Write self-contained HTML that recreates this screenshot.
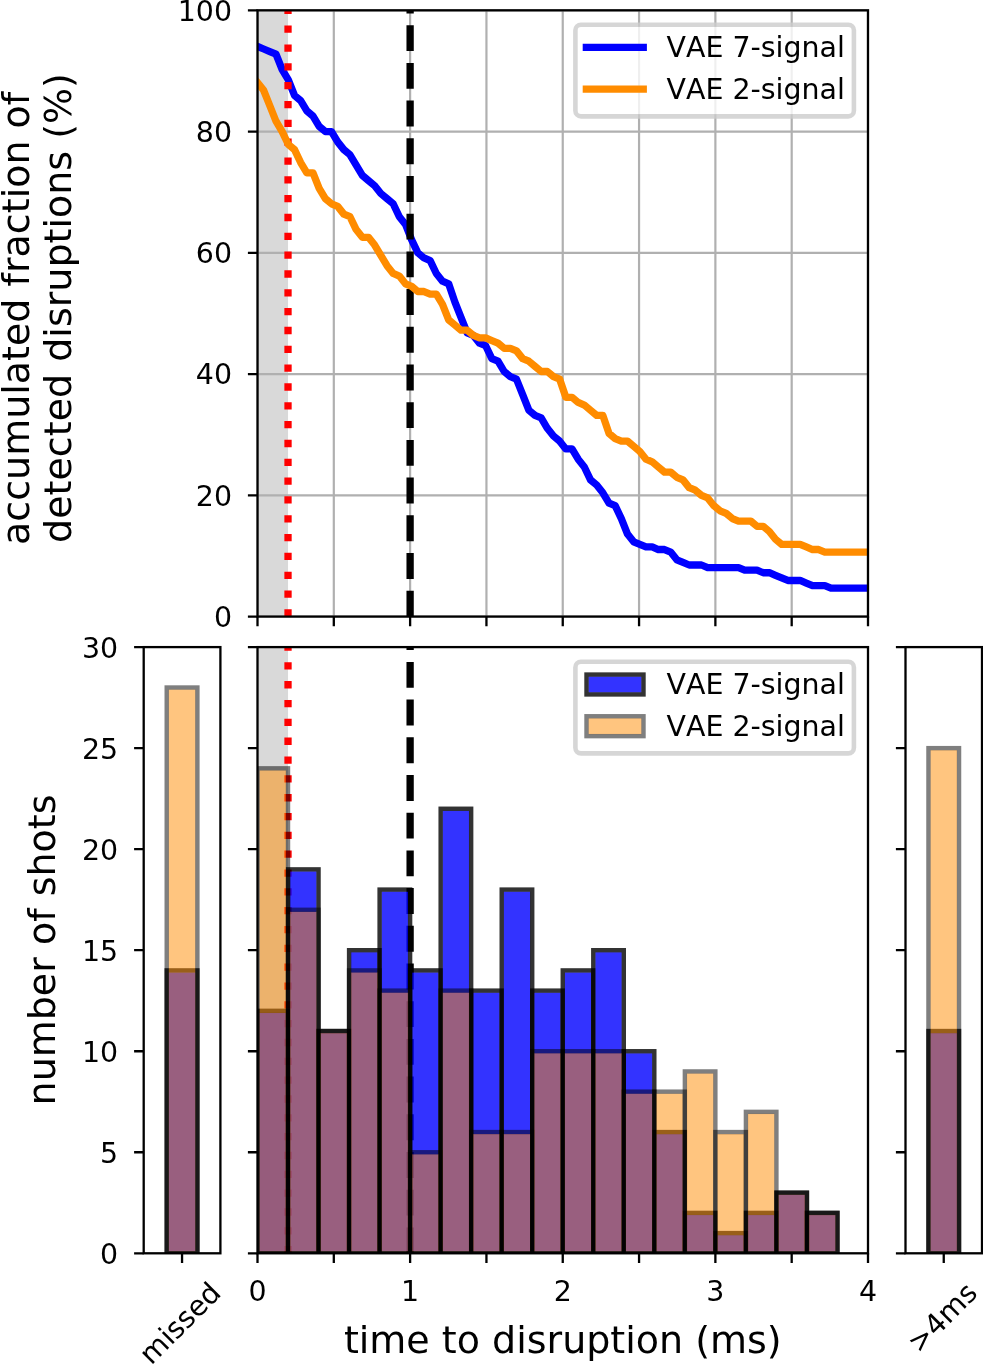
<!DOCTYPE html>
<html lang="en"><head><meta charset="utf-8"><title>Disruption detection statistics</title>
<style>html,body{margin:0;padding:0;background:#fff}body{width:983px;height:1364px;overflow:hidden}svg{display:block}text{font-family:"DejaVu Sans","Liberation Sans",sans-serif;fill:#000;font-kerning:none}</style>
</head><body>
<svg width="983" height="1364" viewBox="0 0 983 1364">
<rect x="0" y="0" width="983" height="1364" fill="#fff"/>
<defs>
<clipPath id="ct"><rect x="257.5" y="10.3" width="610.5" height="606.3000000000001"/></clipPath>
<clipPath id="cb"><rect x="257.5" y="647.1" width="610.5" height="606.1999999999999"/></clipPath>
<clipPath id="cl"><rect x="143.7" y="647.1" width="76.70000000000002" height="606.1999999999999"/></clipPath>
<clipPath id="cr"><rect x="905.5" y="647.1" width="76.5" height="606.1999999999999"/></clipPath>
</defs>
<g id="top-axes">
<g clip-path="url(#ct)">
<rect x="257.5" y="10.3" width="30.52" height="606.3000000000001" fill="#808080" fill-opacity="0.3"/>
<path d="M257.50 10.3V616.6M333.81 10.3V616.6M410.12 10.3V616.6M486.44 10.3V616.6M562.75 10.3V616.6M639.06 10.3V616.6M715.38 10.3V616.6M791.69 10.3V616.6M868.00 10.3V616.6M257.5 616.60H868.0M257.5 495.34H868.0M257.5 374.08H868.0M257.5 252.82H868.0M257.5 131.56H868.0M257.5 10.30H868.0" stroke="#b0b0b0" stroke-width="2.2" fill="none"/>
<polyline points="257.50,46.42 263.67,49.00 269.83,51.58 276.00,54.16 282.17,69.64 288.33,79.96 294.50,95.44 300.67,100.60 306.83,110.92 313.00,116.08 319.17,126.40 325.33,131.56 331.50,131.56 337.67,141.88 343.83,149.62 350.00,154.78 356.17,165.10 362.33,175.42 368.50,180.58 374.67,185.74 380.83,193.48 387.00,198.64 393.17,203.80 399.33,216.70 405.50,224.44 411.67,239.92 417.83,252.82 424.00,257.98 430.17,260.56 436.33,273.46 442.50,281.20 448.67,283.78 454.83,301.84 461.00,317.32 467.17,332.80 473.33,335.38 479.50,343.12 485.67,345.70 491.83,358.60 498.00,361.18 504.17,371.50 510.33,376.66 516.50,379.24 522.67,394.72 528.83,410.20 535.00,415.36 541.17,417.94 547.33,428.26 553.50,436.00 559.67,441.16 565.83,448.90 572.00,448.90 578.17,459.22 584.33,466.96 590.50,479.86 596.67,485.02 602.83,492.76 609.00,503.08 615.17,505.66 621.33,518.56 627.50,534.04 633.67,541.78 639.83,544.36 646.00,546.94 652.17,546.94 658.33,549.52 664.50,549.52 670.67,552.10 676.83,559.84 683.00,562.42 689.17,565.00 695.33,565.00 701.50,565.00 707.67,567.58 713.83,567.58 720.00,567.58 726.17,567.58 732.33,567.58 738.50,567.58 744.67,570.16 750.83,570.16 757.00,570.16 763.17,572.74 769.33,572.74 775.50,575.32 781.67,577.90 787.83,580.48 794.00,580.48 800.17,580.48 806.33,583.06 812.50,585.64 818.67,585.64 824.83,585.64 831.00,588.22 837.17,588.22 843.33,588.22 849.50,588.22 855.67,588.22 861.83,588.22 868.00,588.22" fill="none" stroke="#0000ff" stroke-width="7.3" stroke-linejoin="round" stroke-linecap="square"/>
<path d="M288.02 616.6V10.3" stroke="#ff0000" stroke-width="7.3" stroke-dasharray="7.3 11.53" fill="none"/>
<path d="M410.12 616.6V10.3" stroke="#000" stroke-width="7.3" stroke-dasharray="25.9 11.8" fill="none"/>
<polyline points="257.50,82.54 263.67,90.28 269.83,105.76 276.00,121.24 282.17,131.56 288.33,144.46 294.50,149.62 300.67,162.52 306.83,172.84 313.00,172.84 319.17,188.32 325.33,198.64 331.50,203.80 337.67,206.38 343.83,214.12 350.00,216.70 356.17,229.60 362.33,237.34 368.50,237.34 374.67,245.08 380.83,255.40 387.00,265.72 393.17,273.46 399.33,276.04 405.50,283.78 411.67,286.36 417.83,291.52 424.00,291.52 430.17,294.10 436.33,294.10 442.50,304.42 448.67,319.90 454.83,325.06 461.00,330.22 467.17,330.22 473.33,335.38 479.50,337.96 485.67,337.96 491.83,340.54 498.00,343.12 504.17,348.28 510.33,348.28 516.50,350.86 522.67,358.60 528.83,361.18 535.00,366.34 541.17,371.50 547.33,371.50 553.50,376.66 559.67,379.24 565.83,397.30 572.00,397.30 578.17,402.46 584.33,405.04 590.50,410.20 596.67,415.36 602.83,415.36 609.00,433.42 615.17,438.58 621.33,441.16 627.50,441.16 633.67,446.32 639.83,451.48 646.00,459.22 652.17,461.80 658.33,466.96 664.50,472.12 670.67,472.12 676.83,477.28 683.00,479.86 689.17,487.60 695.33,490.18 701.50,495.34 707.67,497.92 713.83,505.66 720.00,510.82 726.17,513.40 732.33,518.56 738.50,521.14 744.67,521.14 750.83,521.14 757.00,526.30 763.17,526.30 769.33,531.46 775.50,539.20 781.67,544.36 787.83,544.36 794.00,544.36 800.17,544.36 806.33,546.94 812.50,549.52 818.67,549.52 824.83,552.10 831.00,552.10 837.17,552.10 843.33,552.10 849.50,552.10 855.67,552.10 861.83,552.10 868.00,552.10" fill="none" stroke="#ff8c00" stroke-width="7.3" stroke-linejoin="round" stroke-linecap="square"/>
</g>
<path d="M257.50 616.6v9.6M333.81 616.6v9.6M410.12 616.6v9.6M486.44 616.6v9.6M562.75 616.6v9.6M639.06 616.6v9.6M715.38 616.6v9.6M791.69 616.6v9.6M868.00 616.6v9.6M257.5 616.60h-9.6M257.5 495.34h-9.6M257.5 374.08h-9.6M257.5 252.82h-9.6M257.5 131.56h-9.6M257.5 10.30h-9.6" stroke="#000" stroke-width="2.3" fill="none"/>
<rect x="257.5" y="10.3" width="610.5" height="606.3000000000001" fill="none" stroke="#000" stroke-width="2.3" stroke-linejoin="miter"/>
<text x="232.0" y="627.00" font-size="28.45" text-anchor="end">0</text>
<text x="232.0" y="505.74" font-size="28.45" text-anchor="end">20</text>
<text x="232.0" y="384.48" font-size="28.45" text-anchor="end">40</text>
<text x="232.0" y="263.22" font-size="28.45" text-anchor="end">60</text>
<text x="232.0" y="141.96" font-size="28.45" text-anchor="end">80</text>
<text x="232.0" y="20.70" font-size="28.45" text-anchor="end">100</text>
<text transform="translate(29.0,318.4) rotate(-90)" font-size="38.0" text-anchor="middle">accumulated fraction of</text>
<text transform="translate(71.4,308.0) rotate(-90)" font-size="38.0" text-anchor="middle">detected disruptions (%)</text>
<rect x="577.45" y="26.80" width="274.40" height="87.50" rx="3.30" ry="3.30" fill="#fff" fill-opacity="0.8"/>
<rect x="575.40" y="24.75" width="278.50" height="91.60" rx="5.6" ry="5.6" fill="none" stroke="#cccccc" stroke-opacity="0.8" stroke-width="4.6"/>
<path d="M582.7 47.45H646.9" stroke="#0000ff" stroke-width="7.3" fill="none"/>
<path d="M582.7 89.15H646.9" stroke="#ff8c00" stroke-width="7.3" fill="none"/>
<text x="666.5" y="57.35" font-size="28.45">VAE 7-signal</text>
<text x="666.5" y="99.05" font-size="28.45">VAE 2-signal</text>
</g>
<g id="hist-axes">
<g clip-path="url(#cb)">
<rect x="257.5" y="647.1" width="30.52" height="606.1999999999999" fill="#808080" fill-opacity="0.3"/>
<path d="M288.02 1253.3V647.1" stroke="#ff0000" stroke-width="7.3" stroke-dasharray="7.3 11.53" fill="none"/>
<path d="M410.12 1253.3V647.1" stroke="#000" stroke-width="7.3" stroke-dasharray="25.9 11.8" fill="none"/>
<rect x="259.45" y="1012.77" width="26.62" height="238.58" fill="#0000ff" fill-opacity="0.8"/>
<rect x="257.50" y="1010.82" width="30.52" height="242.48" fill="none" stroke="#000" stroke-opacity="0.8" stroke-width="4.4"/>
<rect x="289.97" y="871.32" width="26.63" height="380.03" fill="#0000ff" fill-opacity="0.8"/>
<rect x="288.02" y="869.37" width="30.53" height="383.93" fill="none" stroke="#000" stroke-opacity="0.8" stroke-width="4.4"/>
<rect x="320.50" y="1032.98" width="26.63" height="218.37" fill="#0000ff" fill-opacity="0.8"/>
<rect x="318.55" y="1031.03" width="30.53" height="222.27" fill="none" stroke="#000" stroke-opacity="0.8" stroke-width="4.4"/>
<rect x="351.03" y="952.15" width="26.62" height="299.20" fill="#0000ff" fill-opacity="0.8"/>
<rect x="349.08" y="950.20" width="30.52" height="303.10" fill="none" stroke="#000" stroke-opacity="0.8" stroke-width="4.4"/>
<rect x="381.55" y="891.53" width="26.62" height="359.82" fill="#0000ff" fill-opacity="0.8"/>
<rect x="379.60" y="889.58" width="30.52" height="363.72" fill="none" stroke="#000" stroke-opacity="0.8" stroke-width="4.4"/>
<rect x="412.07" y="972.36" width="26.63" height="278.99" fill="#0000ff" fill-opacity="0.8"/>
<rect x="410.12" y="970.41" width="30.53" height="282.89" fill="none" stroke="#000" stroke-opacity="0.8" stroke-width="4.4"/>
<rect x="442.60" y="810.70" width="26.62" height="440.65" fill="#0000ff" fill-opacity="0.8"/>
<rect x="440.65" y="808.75" width="30.52" height="444.55" fill="none" stroke="#000" stroke-opacity="0.8" stroke-width="4.4"/>
<rect x="473.12" y="992.56" width="26.63" height="258.79" fill="#0000ff" fill-opacity="0.8"/>
<rect x="471.18" y="990.61" width="30.53" height="262.69" fill="none" stroke="#000" stroke-opacity="0.8" stroke-width="4.4"/>
<rect x="503.65" y="891.53" width="26.62" height="359.82" fill="#0000ff" fill-opacity="0.8"/>
<rect x="501.70" y="889.58" width="30.52" height="363.72" fill="none" stroke="#000" stroke-opacity="0.8" stroke-width="4.4"/>
<rect x="534.18" y="992.56" width="26.62" height="258.79" fill="#0000ff" fill-opacity="0.8"/>
<rect x="532.23" y="990.61" width="30.52" height="262.69" fill="none" stroke="#000" stroke-opacity="0.8" stroke-width="4.4"/>
<rect x="564.70" y="972.36" width="26.63" height="278.99" fill="#0000ff" fill-opacity="0.8"/>
<rect x="562.75" y="970.41" width="30.53" height="282.89" fill="none" stroke="#000" stroke-opacity="0.8" stroke-width="4.4"/>
<rect x="595.23" y="952.15" width="26.62" height="299.20" fill="#0000ff" fill-opacity="0.8"/>
<rect x="593.28" y="950.20" width="30.52" height="303.10" fill="none" stroke="#000" stroke-opacity="0.8" stroke-width="4.4"/>
<rect x="625.75" y="1053.18" width="26.62" height="198.17" fill="#0000ff" fill-opacity="0.8"/>
<rect x="623.80" y="1051.23" width="30.52" height="202.07" fill="none" stroke="#000" stroke-opacity="0.8" stroke-width="4.4"/>
<rect x="656.28" y="1134.01" width="26.62" height="117.34" fill="#0000ff" fill-opacity="0.8"/>
<rect x="654.33" y="1132.06" width="30.52" height="121.24" fill="none" stroke="#000" stroke-opacity="0.8" stroke-width="4.4"/>
<rect x="686.80" y="1214.84" width="26.62" height="36.51" fill="#0000ff" fill-opacity="0.8"/>
<rect x="684.85" y="1212.89" width="30.52" height="40.41" fill="none" stroke="#000" stroke-opacity="0.8" stroke-width="4.4"/>
<rect x="717.33" y="1235.04" width="26.63" height="16.31" fill="#0000ff" fill-opacity="0.8"/>
<rect x="715.38" y="1233.09" width="30.53" height="20.21" fill="none" stroke="#000" stroke-opacity="0.8" stroke-width="4.4"/>
<rect x="747.85" y="1214.84" width="26.62" height="36.51" fill="#0000ff" fill-opacity="0.8"/>
<rect x="745.90" y="1212.89" width="30.52" height="40.41" fill="none" stroke="#000" stroke-opacity="0.8" stroke-width="4.4"/>
<rect x="778.38" y="1194.63" width="26.62" height="56.72" fill="#0000ff" fill-opacity="0.8"/>
<rect x="776.43" y="1192.68" width="30.52" height="60.62" fill="none" stroke="#000" stroke-opacity="0.8" stroke-width="4.4"/>
<rect x="808.90" y="1214.84" width="26.62" height="36.51" fill="#0000ff" fill-opacity="0.8"/>
<rect x="806.95" y="1212.89" width="30.52" height="40.41" fill="none" stroke="#000" stroke-opacity="0.8" stroke-width="4.4"/>
<rect x="259.45" y="770.29" width="26.62" height="481.06" fill="#ff8c00" fill-opacity="0.5"/>
<rect x="257.50" y="768.34" width="30.52" height="484.96" fill="none" stroke="#000" stroke-opacity="0.5" stroke-width="4.4"/>
<rect x="289.97" y="911.74" width="26.63" height="339.61" fill="#ff8c00" fill-opacity="0.5"/>
<rect x="288.02" y="909.79" width="30.53" height="343.51" fill="none" stroke="#000" stroke-opacity="0.5" stroke-width="4.4"/>
<rect x="320.50" y="1032.98" width="26.63" height="218.37" fill="#ff8c00" fill-opacity="0.5"/>
<rect x="318.55" y="1031.03" width="30.53" height="222.27" fill="none" stroke="#000" stroke-opacity="0.5" stroke-width="4.4"/>
<rect x="351.03" y="972.36" width="26.62" height="278.99" fill="#ff8c00" fill-opacity="0.5"/>
<rect x="349.08" y="970.41" width="30.52" height="282.89" fill="none" stroke="#000" stroke-opacity="0.5" stroke-width="4.4"/>
<rect x="381.55" y="992.56" width="26.62" height="258.79" fill="#ff8c00" fill-opacity="0.5"/>
<rect x="379.60" y="990.61" width="30.52" height="262.69" fill="none" stroke="#000" stroke-opacity="0.5" stroke-width="4.4"/>
<rect x="412.07" y="1154.22" width="26.63" height="97.13" fill="#ff8c00" fill-opacity="0.5"/>
<rect x="410.12" y="1152.27" width="30.53" height="101.03" fill="none" stroke="#000" stroke-opacity="0.5" stroke-width="4.4"/>
<rect x="442.60" y="992.56" width="26.62" height="258.79" fill="#ff8c00" fill-opacity="0.5"/>
<rect x="440.65" y="990.61" width="30.52" height="262.69" fill="none" stroke="#000" stroke-opacity="0.5" stroke-width="4.4"/>
<rect x="473.12" y="1134.01" width="26.63" height="117.34" fill="#ff8c00" fill-opacity="0.5"/>
<rect x="471.18" y="1132.06" width="30.53" height="121.24" fill="none" stroke="#000" stroke-opacity="0.5" stroke-width="4.4"/>
<rect x="503.65" y="1134.01" width="26.62" height="117.34" fill="#ff8c00" fill-opacity="0.5"/>
<rect x="501.70" y="1132.06" width="30.52" height="121.24" fill="none" stroke="#000" stroke-opacity="0.5" stroke-width="4.4"/>
<rect x="534.18" y="1053.18" width="26.62" height="198.17" fill="#ff8c00" fill-opacity="0.5"/>
<rect x="532.23" y="1051.23" width="30.52" height="202.07" fill="none" stroke="#000" stroke-opacity="0.5" stroke-width="4.4"/>
<rect x="564.70" y="1053.18" width="26.63" height="198.17" fill="#ff8c00" fill-opacity="0.5"/>
<rect x="562.75" y="1051.23" width="30.53" height="202.07" fill="none" stroke="#000" stroke-opacity="0.5" stroke-width="4.4"/>
<rect x="595.23" y="1053.18" width="26.62" height="198.17" fill="#ff8c00" fill-opacity="0.5"/>
<rect x="593.28" y="1051.23" width="30.52" height="202.07" fill="none" stroke="#000" stroke-opacity="0.5" stroke-width="4.4"/>
<rect x="625.75" y="1093.60" width="26.62" height="157.75" fill="#ff8c00" fill-opacity="0.5"/>
<rect x="623.80" y="1091.65" width="30.52" height="161.65" fill="none" stroke="#000" stroke-opacity="0.5" stroke-width="4.4"/>
<rect x="656.28" y="1093.60" width="26.62" height="157.75" fill="#ff8c00" fill-opacity="0.5"/>
<rect x="654.33" y="1091.65" width="30.52" height="161.65" fill="none" stroke="#000" stroke-opacity="0.5" stroke-width="4.4"/>
<rect x="686.80" y="1073.39" width="26.62" height="177.96" fill="#ff8c00" fill-opacity="0.5"/>
<rect x="684.85" y="1071.44" width="30.52" height="181.86" fill="none" stroke="#000" stroke-opacity="0.5" stroke-width="4.4"/>
<rect x="717.33" y="1134.01" width="26.63" height="117.34" fill="#ff8c00" fill-opacity="0.5"/>
<rect x="715.38" y="1132.06" width="30.53" height="121.24" fill="none" stroke="#000" stroke-opacity="0.5" stroke-width="4.4"/>
<rect x="747.85" y="1113.80" width="26.62" height="137.55" fill="#ff8c00" fill-opacity="0.5"/>
<rect x="745.90" y="1111.85" width="30.52" height="141.45" fill="none" stroke="#000" stroke-opacity="0.5" stroke-width="4.4"/>
<rect x="778.38" y="1194.63" width="26.62" height="56.72" fill="#ff8c00" fill-opacity="0.5"/>
<rect x="776.43" y="1192.68" width="30.52" height="60.62" fill="none" stroke="#000" stroke-opacity="0.5" stroke-width="4.4"/>
<rect x="808.90" y="1214.84" width="26.62" height="36.51" fill="#ff8c00" fill-opacity="0.5"/>
<rect x="806.95" y="1212.89" width="30.52" height="40.41" fill="none" stroke="#000" stroke-opacity="0.5" stroke-width="4.4"/>
</g>
<path d="M257.50 1253.3v9.6M333.81 1253.3v9.6M410.12 1253.3v9.6M486.44 1253.3v9.6M562.75 1253.3v9.6M639.06 1253.3v9.6M715.38 1253.3v9.6M791.69 1253.3v9.6M868.00 1253.3v9.6M257.5 1253.30h-9.6M257.5 1152.27h-9.6M257.5 1051.23h-9.6M257.5 950.20h-9.6M257.5 849.17h-9.6M257.5 748.13h-9.6M257.5 647.10h-9.6" stroke="#000" stroke-width="2.3" fill="none"/>
<rect x="257.5" y="647.1" width="610.5" height="606.1999999999999" fill="none" stroke="#000" stroke-width="2.3"/>
<text x="257.50" y="1301.3" font-size="28.45" text-anchor="middle">0</text>
<text x="410.12" y="1301.3" font-size="28.45" text-anchor="middle">1</text>
<text x="562.75" y="1301.3" font-size="28.45" text-anchor="middle">2</text>
<text x="715.38" y="1301.3" font-size="28.45" text-anchor="middle">3</text>
<text x="868.00" y="1301.3" font-size="28.45" text-anchor="middle">4</text>
<text x="562.8" y="1352.8" font-size="38.0" text-anchor="middle">time to disruption (ms)</text>
<rect x="577.45" y="663.85" width="274.40" height="87.50" rx="3.30" ry="3.30" fill="#fff" fill-opacity="0.8"/>
<rect x="575.40" y="661.80" width="278.50" height="91.60" rx="5.6" ry="5.6" fill="none" stroke="#cccccc" stroke-opacity="0.8" stroke-width="4.6"/>
<rect x="588.45" y="676.50" width="53.10" height="16.00" fill="#0000ff" fill-opacity="0.8"/>
<rect x="586.50" y="674.55" width="57.00" height="19.90" fill="none" stroke="#000" stroke-opacity="0.8" stroke-width="4.4"/>
<rect x="588.45" y="718.20" width="53.10" height="16.00" fill="#ff8c00" fill-opacity="0.5"/>
<rect x="586.50" y="716.25" width="57.00" height="19.90" fill="none" stroke="#000" stroke-opacity="0.5" stroke-width="4.4"/>
<text x="666.5" y="694.40" font-size="28.45">VAE 7-signal</text>
<text x="666.5" y="736.10" font-size="28.45">VAE 2-signal</text>
</g>
<g id="missed-axes">
<g clip-path="url(#cl)">
<rect x="168.66" y="972.36" width="26.78" height="278.99" fill="#0000ff" fill-opacity="0.8"/>
<rect x="166.71" y="970.41" width="30.68" height="282.89" fill="none" stroke="#000" stroke-opacity="0.8" stroke-width="4.4"/>
<rect x="168.66" y="689.46" width="26.78" height="561.89" fill="#ff8c00" fill-opacity="0.5"/>
<rect x="166.71" y="687.51" width="30.68" height="565.79" fill="none" stroke="#000" stroke-opacity="0.5" stroke-width="4.4"/>
</g>
<path d="M182.05 1253.3v9.6M143.7 1253.30h-9.6M143.7 1152.27h-9.6M143.7 1051.23h-9.6M143.7 950.20h-9.6M143.7 849.17h-9.6M143.7 748.13h-9.6M143.7 647.10h-9.6" stroke="#000" stroke-width="2.3" fill="none"/>
<rect x="143.7" y="647.1" width="76.70000000000002" height="606.1999999999999" fill="none" stroke="#000" stroke-width="2.3"/>
<text transform="translate(151.3,1365.7) rotate(-45)" font-size="28.45">missed</text>
</g>
<text x="118.1" y="1263.70" font-size="28.45" text-anchor="end">0</text>
<text x="118.1" y="1162.67" font-size="28.45" text-anchor="end">5</text>
<text x="118.1" y="1061.63" font-size="28.45" text-anchor="end">10</text>
<text x="118.1" y="960.60" font-size="28.45" text-anchor="end">15</text>
<text x="118.1" y="859.57" font-size="28.45" text-anchor="end">20</text>
<text x="118.1" y="758.53" font-size="28.45" text-anchor="end">25</text>
<text x="118.1" y="657.50" font-size="28.45" text-anchor="end">30</text>
<text transform="translate(55.1,950.0) rotate(-90)" font-size="38.0" text-anchor="middle">number of shots</text>
<g id="late-axes">
<g clip-path="url(#cr)">
<rect x="930.40" y="1032.98" width="26.70" height="218.37" fill="#0000ff" fill-opacity="0.8"/>
<rect x="928.45" y="1031.03" width="30.60" height="222.27" fill="none" stroke="#000" stroke-opacity="0.8" stroke-width="4.4"/>
<rect x="930.40" y="750.08" width="26.70" height="501.27" fill="#ff8c00" fill-opacity="0.5"/>
<rect x="928.45" y="748.13" width="30.60" height="505.17" fill="none" stroke="#000" stroke-opacity="0.5" stroke-width="4.4"/>
</g>
<path d="M943.75 1253.3v9.6M905.5 1253.30h-9.6M905.5 1152.27h-9.6M905.5 1051.23h-9.6M905.5 950.20h-9.6M905.5 849.17h-9.6M905.5 748.13h-9.6M905.5 647.10h-9.6" stroke="#000" stroke-width="2.3" fill="none"/>
<rect x="905.5" y="647.1" width="76.5" height="606.1999999999999" fill="none" stroke="#000" stroke-width="2.3"/>
<text transform="translate(919.2,1354.3) rotate(-45)" font-size="28.45">&gt;4ms</text>
</g>
</svg>
</body></html>
